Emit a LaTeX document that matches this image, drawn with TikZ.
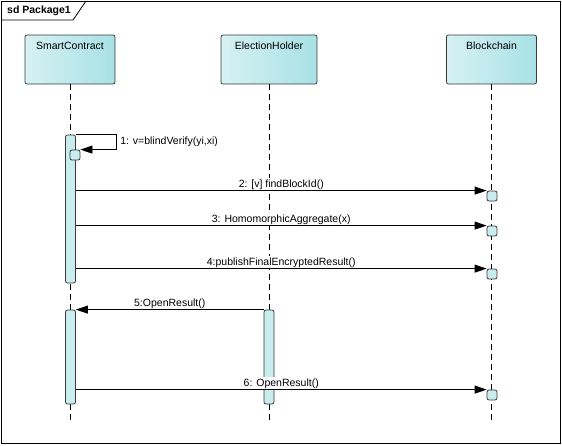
\documentclass[tikz,border=0pt]{standalone}
\usepackage{fontspec}
\setmainfont{Liberation Sans}
\usetikzlibrary{arrows.meta,positioning}
\definecolor{lifeL}{HTML}{D6F1F3}
\definecolor{lifeR}{HTML}{A8E1E5}
\definecolor{barfill}{HTML}{C9EDEF}
\definecolor{edgegray}{HTML}{3A3A3A}
\tikzset{
	actbar/.style={
		rectangle,
		rounded corners=2pt,
		draw=edgegray,
		line width=0.8pt,
		fill=barfill,
		minimum width=10pt,
		inner sep=0pt
	}
}

\begin{document}
\begin{tikzpicture}[x=1pt,y=-1pt]
		\tikzstyle{main}=[rectangle, rounded corners=2pt, draw=edgegray, line width=0.8pt, left color=lifeL, right color=lifeR, minimum width=90pt, minimum height=49pt, inner sep=0pt]
		\tikzstyle{lifeline}=[line width=0.8pt, dash pattern=on 6pt off 4pt]
		\tikzstyle{connect}=[-{Triangle[length=12pt,width=8pt]}, line width=0.8pt]
		\tikzstyle{msg}=[midway, above, inner sep=1pt, fill=white]
		\fontsize{10.5}{12}\selectfont
		\useasboundingbox (0,0) rectangle (562,445);
		
		% frame
		\draw [line width=0.8pt] (1,1) rectangle (560,443);
		\node[anchor=west, inner sep=0pt, font=\bfseries] (title) at (7,10.5) {sd Package1};
		\draw [line width=0.8pt] (1,20) -- (73,20) -- (86,1);
		
		% lifelines
		\node[main, label={[anchor=north,yshift=-4pt]north:SmartContract}] (sc) at (70,59.5) {};
		\node[main, minimum width=96pt, label={[anchor=north,yshift=-4pt]north:ElectionHolder}] (eh) at (269,59.5) {};
		\node[main, label={[anchor=north,yshift=-4pt]north:Blockchain}] (bc) at (491.5,59.5) {};
		\coordinate (scEnd) at (70,420);
		\coordinate (ehEnd) at (269,420);
		\coordinate (bcEnd) at (491.5,420);
		\draw [lifeline] (sc) -- (scEnd);
		\draw [lifeline] (eh) -- (ehEnd);
		\draw [lifeline] (bc) -- (bcEnd);
		
		% activations
		\node[actbar, minimum height=148pt] (sc1) at (70.5,209) {};
		\node[actbar, minimum height=10pt] (sc1a) at (75,155) {};
		\node[actbar, minimum height=94pt] (sc2) at (70.5,357) {};
		\node[actbar, minimum height=94pt] (eh1) at (269,357) {};
		\node[actbar, minimum height=10pt] (bc2) at (492,196) {};
		\node[actbar, minimum height=10pt] (bc3) at (492,231) {};
		\node[actbar, minimum height=10pt] (bc4) at (492,274) {};
		\node[actbar, minimum height=10pt] (bc6) at (492,395) {};
		
		% messages
		\draw [connect] (sc1.north east) -- ++(40,0) -- ++(0,15) node [midway,right,inner sep=4pt] {1: v=blindVerify(yi,xi)} -- (sc1a.north east);
		\draw [connect] (sc1.east |- bc2.north west) -- (bc2.north west) node [msg] {2: [v] findBlockId()};
		\draw [connect] (sc1.east |- bc3.north west) -- (bc3.north west) node [msg] {3: HomomorphicAggregate(x)};
		\draw [connect] (sc1.east |- bc4.north west) -- (bc4.north west) node [msg] {4:publishFinalEncryptedResult()};
		\draw [connect] (eh1.north west) -- (sc2.north east) node [msg] {5:OpenResult()};
		\draw [connect] (sc2.east |- bc6.north west) -- (bc6.north west) node [msg] {6: OpenResult()};
		
\end{tikzpicture}
\end{document}
